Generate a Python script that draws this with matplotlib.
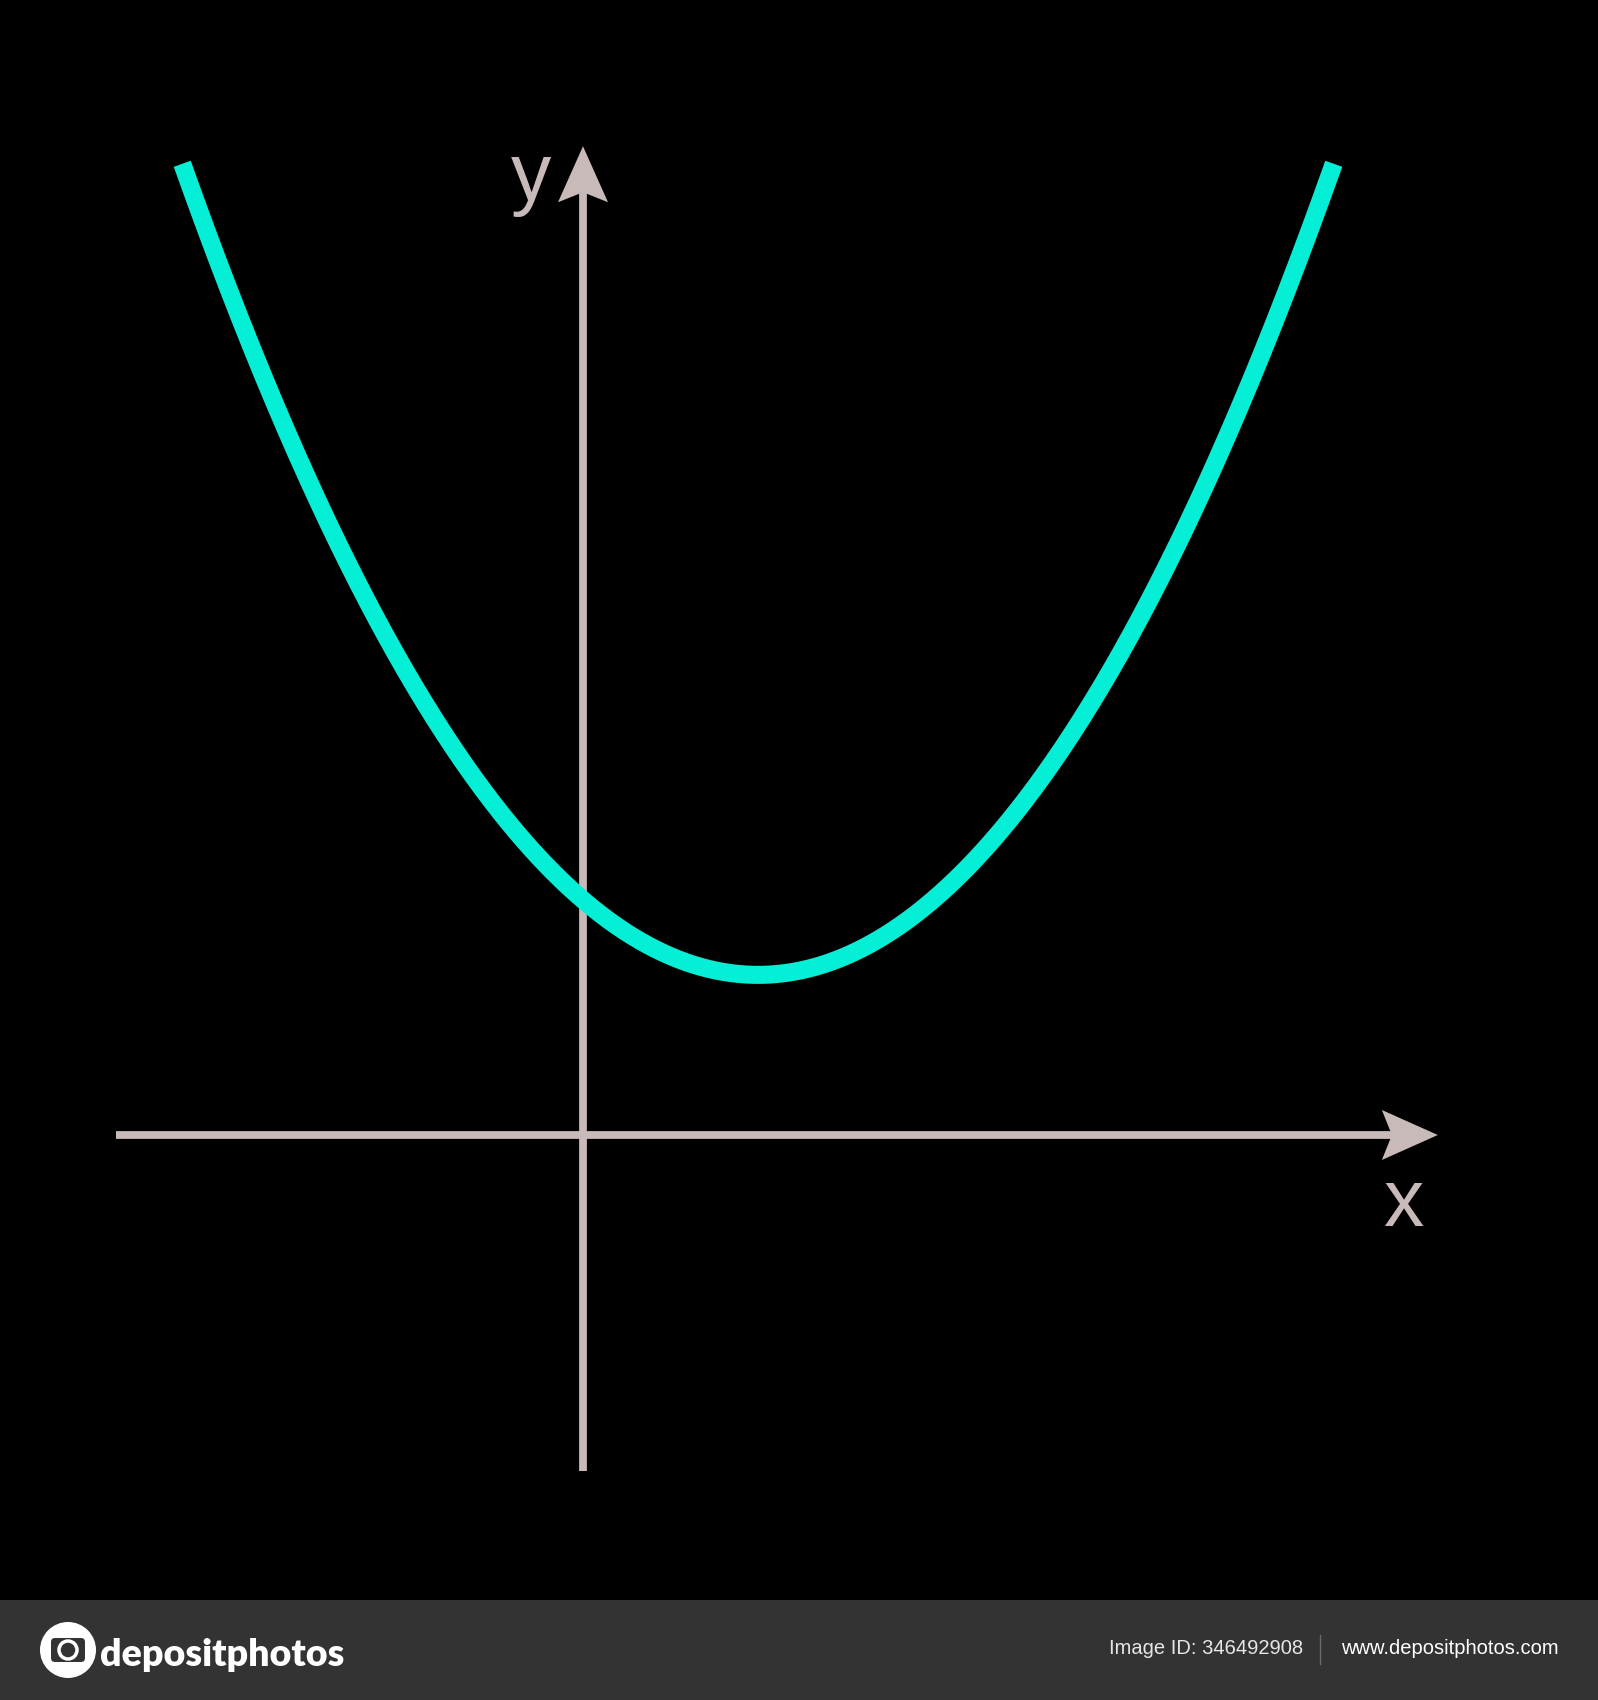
import matplotlib
matplotlib.use("Agg")
import matplotlib.pyplot as plt
import numpy as np
from matplotlib.patches import Polygon, Rectangle, Circle, FancyBboxPatch

# ---- data (math-plane units) ----
parabola_a = 0.2141      # y = a*(x-h)^2 + k
parabola_h = 2.0
parabola_k = 1.83
curve_x_range = [-4.58, 8.58]

x_axis_range = [-5.34, 9.77]   # x-axis start, arrow tip
y_axis_range = [-3.84, 11.30]  # y-axis start, arrow tip
axis_labels = ["x", "y"]

footer_brand = "depositphotos"
footer_id = "Image ID: 346492908"
footer_url = "www.depositphotos.com"

# ---- styling ----
W, H, DPI = 1598, 1700, 100
UNIT = 87.5                 # px per unit
ORIGIN = (583, 1135)        # px position of origin
BG = "#000000"
AXIS_C = "#c9baba"
CURVE_C = "#05efd6"

fig = plt.figure(figsize=(W / DPI, H / DPI), dpi=DPI, facecolor=BG)
ax = fig.add_axes([0, 0, 1, 1])
ax.set_facecolor(BG)
ax.set_xlim(-ORIGIN[0] / UNIT, (W - ORIGIN[0]) / UNIT)
ax.set_ylim((ORIGIN[1] - H) / UNIT, ORIGIN[1] / UNIT)
ax.axis("off")

head_len = 56 / UNIT
head_half = 25 / UNIT
notch = 10 / UNIT

# x axis
ax.plot([x_axis_range[0], x_axis_range[1] - head_len + notch], [0, 0],
        color=AXIS_C, lw=5.6, solid_capstyle="butt", zorder=2)
tip = x_axis_range[1]
ax.add_patch(Polygon([[tip, 0], [tip - head_len, head_half],
                      [tip - head_len + notch, 0], [tip - head_len, -head_half]],
                     closed=True, facecolor=AXIS_C, edgecolor="none", zorder=2))
# y axis
ax.plot([0, 0], [y_axis_range[0], y_axis_range[1] - head_len + notch],
        color=AXIS_C, lw=5.6, solid_capstyle="butt", zorder=2)
tip = y_axis_range[1]
ax.add_patch(Polygon([[0, tip], [head_half, tip - head_len],
                      [0, tip - head_len + notch], [-head_half, tip - head_len]],
                     closed=True, facecolor=AXIS_C, edgecolor="none", zorder=2))

# curve
xs = np.linspace(curve_x_range[0], curve_x_range[1], 600)
ys = parabola_a * (xs - parabola_h) ** 2 + parabola_k
ax.plot(xs, ys, color=CURVE_C, lw=13.0, solid_capstyle="butt", zorder=3)

# labels
ax.text(9.37, -1.04, axis_labels[0], color=AXIS_C, fontsize=58,
        family="Liberation Sans", ha="center", va="baseline")
ax.text(-0.594, 10.69, axis_labels[1], color=AXIS_C, fontsize=58,
        family="Liberation Sans", ha="center", va="baseline")

# ---- footer bar ----
fig.patches.append(Rectangle((0, 0), 1, 100 / H, transform=fig.transFigure,
                             facecolor="#333333", edgecolor="none", zorder=0))
cx, cy, r = 68 / W, (H - 1650) / H, 28
fig.patches.append(Circle((68, H - 1650), r, transform=None,
                          facecolor="white", edgecolor="none", zorder=5))
fig.patches.append(FancyBboxPatch((68 - 17, H - 1650 - 12), 34, 24,
                                  boxstyle="round,pad=0,rounding_size=4",
                                  transform=None, facecolor="#333333",
                                  edgecolor="none", zorder=6))
fig.patches.append(Circle((68, H - 1650), 9, transform=None,
                          facecolor="none", edgecolor="white", lw=2.5, zorder=7))
fig.text(100 / W, (H - 1666) / H, footer_brand, color="white", fontsize=27,
         family="Lato", weight="heavy", ha="left", va="baseline")
fig.text(1109 / W, (H - 1649) / H, footer_id, color="#e6e6e6", fontsize=14.5,
         family="Liberation Sans", ha="left", va="center")
fig.add_artist(plt.Line2D([1320 / W, 1320 / W], [(H - 1664) / H, (H - 1635) / H],
                          transform=fig.transFigure, color="#6a6a6a", lw=1))
fig.text(1341 / W, (H - 1649) / H, footer_url, color="#ffffff", fontsize=14.5,
         family="Liberation Sans", ha="left", va="center")

fig.savefig("out.png", dpi=DPI, facecolor=BG)
